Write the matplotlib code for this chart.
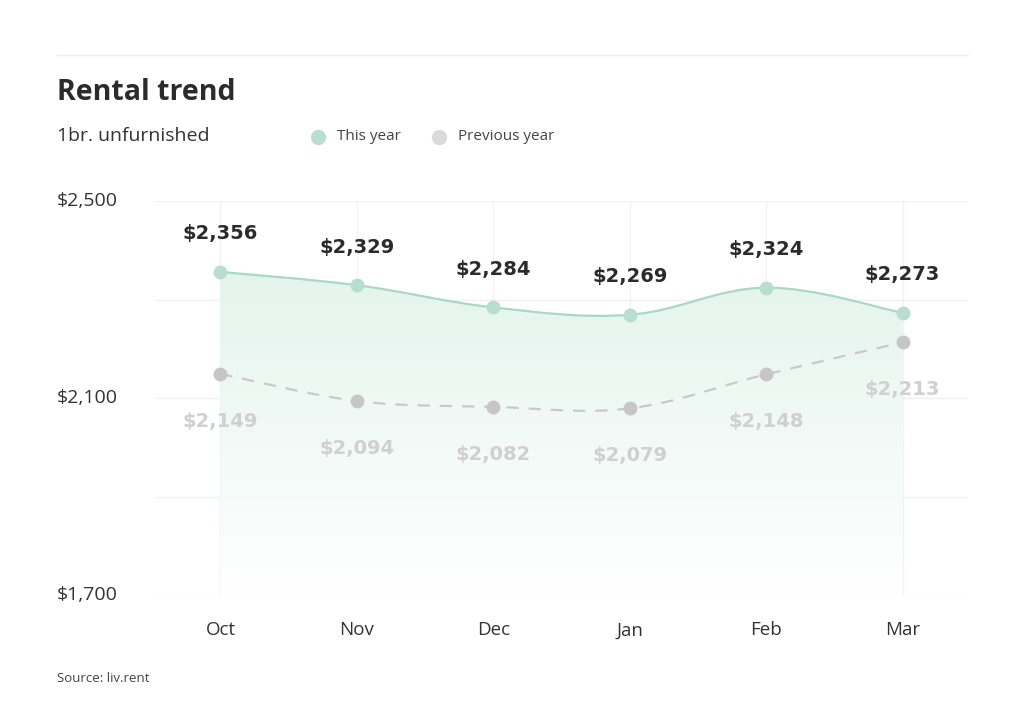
import matplotlib
matplotlib.use("Agg")
import matplotlib.pyplot as plt
import matplotlib.transforms as mtransforms
from matplotlib.path import Path
from matplotlib.patches import PathPatch
from matplotlib.lines import Line2D
from matplotlib.colors import LinearSegmentedColormap
import numpy as np

# data
months = ["Oct", "Nov", "Dec", "Jan", "Feb", "Mar"]
this_year = [2356, 2329, 2284, 2269, 2324, 2273]
prev_year = [2149, 2094, 2082, 2079, 2148, 2213]
ytick_vals = [1700, 2100, 2500]
ytick_text = ["$1,700", "$2,100", "$2,500"]
grid_vals = [1700, 1900, 2100, 2300, 2500]

green = "#a9d9c6"
green_dot = "#b7dece"
grey_line = "#c9c9c9"
grey_dot = "#c6c6c6"
dark = "#2b2b2b"


def smooth_path(xs, ys, k=0.18):
    # cubic bezier segments through the points (catmull-rom style control points)
    n = len(xs)
    verts = [(xs[0], ys[0])]
    codes = [Path.MOVETO]
    for i in range(n - 1):
        a = max(i - 1, 0)
        b = min(i + 2, n - 1)
        c1 = (xs[i] + (xs[i + 1] - xs[a]) * k, ys[i] + (ys[i + 1] - ys[a]) * k)
        c2 = (xs[i + 1] - (xs[b] - xs[i]) * k, ys[i + 1] - (ys[b] - ys[i]) * k)
        verts += [c1, c2, (xs[i + 1], ys[i + 1])]
        codes += [Path.CURVE4] * 3
    return verts, codes


fig = plt.figure(figsize=(10.24, 7.17), dpi=100)
ax = fig.add_axes([155 / 1024, 1 - 595 / 717, 813 / 1024, 394 / 717])

x = np.arange(len(months))

# grid
for g in grid_vals:
    ax.axhline(g, color="#f0f0f0", lw=1, zorder=0)
for xi in x:
    ax.axvline(xi, color="#f2f2f2", lw=1, zorder=0)

# gradient fill under this year's line
verts, codes = smooth_path(x, this_year)
fill_verts = verts + [(x[-1], 1700), (x[0], 1700), (x[0], this_year[0])]
fill_codes = codes + [Path.LINETO, Path.LINETO, Path.CLOSEPOLY]
fill_patch = PathPatch(Path(fill_verts, fill_codes), facecolor="none", edgecolor="none")
ax.add_patch(fill_patch)
cmap = LinearSegmentedColormap.from_list("g", ["#ffffff", "#e4f4ed"])
grad = np.linspace(0, 1, 256).reshape(-1, 1)
im = ax.imshow(grad, cmap=cmap, aspect="auto", origin="lower",
               extent=(x[0], x[-1], 1700, max(this_year)), zorder=1)
im.set_clip_path(fill_patch)

# lines
ax.add_patch(PathPatch(Path(verts, codes), facecolor="none", edgecolor=green, lw=1.6, zorder=3))
pv, pc = smooth_path(x, prev_year)
ax.add_patch(PathPatch(Path(pv, pc), facecolor="none", edgecolor=grey_line, lw=1.6,
                       linestyle=(0, (5.5, 4.5)), zorder=3))

ax.plot(x, this_year, "o", color=green_dot, ms=10, mec="none", zorder=4)
ax.plot(x, prev_year, "o", color=grey_dot, ms=10, mec="none", zorder=4)

# value labels
for xi, v in zip(x, this_year):
    ax.annotate(f"${v:,}", (xi, v), xytext=(0, 27.5), textcoords="offset points",
                ha="center", va="center", fontsize=14, fontweight="bold",
                family="DejaVu Sans", color=dark, zorder=5)
for xi, v in zip(x, prev_year):
    ax.annotate(f"${v:,}", (xi, v), xytext=(0, -34), textcoords="offset points",
                ha="center", va="center", fontsize=14, fontweight="bold",
                family="DejaVu Sans", color="#d0d0d0", zorder=5)

ax.set_xlim(-0.48, 5.48)
ax.set_ylim(1700, 2500)
ax.set_xticks(x)
ax.set_xticklabels(months, family="Open Sans", fontsize=13.5, color="#333333")
ax.tick_params(axis="x", length=0, pad=19)
ax.set_yticks([])
for s in ax.spines.values():
    s.set_visible(False)

# y labels, left aligned with the title
trans = mtransforms.blended_transform_factory(fig.transFigure, ax.transData)
for v, t in zip(ytick_vals, ytick_text):
    ax.text(57 / 1024, v, t, transform=trans, ha="left", va="center",
            family="Open Sans", fontsize=14, color="#333333")

# header
fig.add_artist(Line2D([57 / 1024, 968 / 1024], [1 - 55 / 717] * 2, color="#eeeeee", lw=1))
fig.text(57 / 1024, 1 - 93 / 717, "Rental trend", family="Open Sans", fontweight="bold",
         fontsize=20.5, color=dark, va="center", ha="left")
fig.text(57 / 1024, 1 - 136 / 717, "1br. unfurnished", family="Open Sans",
         fontsize=14, color="#333333", va="center", ha="left")

fig.add_artist(Line2D([318 / 1024], [1 - 137 / 717], marker="o", ms=11, color=green_dot, mec="none"))
fig.text(337 / 1024, 1 - 137 / 717, "This year", family="Open Sans", fontsize=11,
         color="#444444", va="center", ha="left")
fig.add_artist(Line2D([439 / 1024], [1 - 137 / 717], marker="o", ms=11, color="#dadada", mec="none"))
fig.text(458 / 1024, 1 - 137 / 717, "Previous year", family="Open Sans", fontsize=11,
         color="#444444", va="center", ha="left")

fig.text(57 / 1024, 1 - 678 / 717, "Source: liv.rent", family="Open Sans", fontsize=9.5,
         color="#444444", va="center", ha="left")

fig.savefig("out.png", dpi=100, facecolor="white")
